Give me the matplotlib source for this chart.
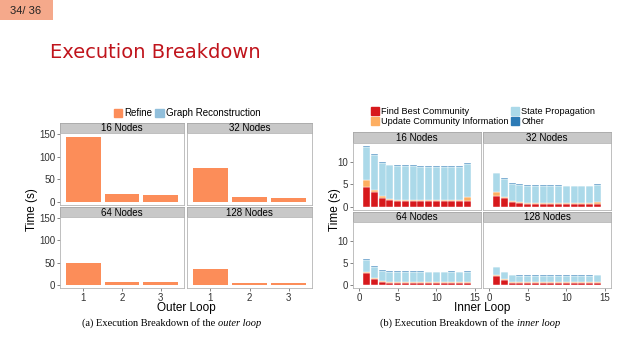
import matplotlib.pyplot as plt
from matplotlib.patches import Rectangle, Patch

W, H = 638, 359

# outer loop (seconds per outer iteration)
outer_iters = [1, 2, 3]
refine_16 = [142.5, 16.5, 15.0]
refine_32 = [75.5, 9.7, 9.0]
refine_64 = [49.0, 7.3, 5.8]
refine_128 = [35.0, 4.4, 4.4]
graphrec_16 = [0.3, 0.2, 0.2]
graphrec_32 = [0.2, 0.1, 0.1]
graphrec_64 = [0.2, 0.1, 0.1]
graphrec_128 = [0.1, 0.1, 0.1]

# inner loop (seconds per inner iteration)
inner_iters = list(range(1, 15))
best_16 = [4.4, 3.2, 1.9, 1.5, 1.3, 1.3, 1.3, 1.3, 1.3, 1.3, 1.3, 1.3, 1.3, 1.3]
update_16 = [1.5, 0.6, 0.45, 0.25, 0.2, 0.2, 0.2, 0.2, 0.2, 0.2, 0.2, 0.2, 0.2, 1.0]
state_16 = [7.5, 7.7, 7.35, 7.45, 7.5, 7.5, 7.5, 7.3, 7.3, 7.3, 7.3, 7.3, 7.3, 7.2]
other_16 = [0.2] * 14
best_32 = [2.5, 1.9, 1.1, 0.85, 0.7, 0.7, 0.7, 0.7, 0.7, 0.7, 0.7, 0.7, 0.7, 0.7]
update_32 = [0.7, 0.2, 0.2, 0.15, 0.15, 0.15, 0.15, 0.15, 0.15, 0.15, 0.15, 0.15, 0.15, 0.4]
state_32 = [4.25, 4.15, 3.85, 3.85, 3.85, 3.85, 3.85, 3.85, 3.85, 3.7, 3.7, 3.7, 3.7, 3.75]
other_32 = [0.15] * 14
best_64 = [2.6, 1.3, 0.65, 0.5, 0.5, 0.5, 0.5, 0.5, 0.5, 0.5, 0.5, 0.5, 0.5, 0.5]
update_64 = [0.4, 0.25, 0.15, 0.15, 0.15, 0.15, 0.15, 0.15, 0.15, 0.15, 0.15, 0.15, 0.15, 0.15]
state_64 = [2.68, 2.58, 2.38, 2.33, 2.33, 2.33, 2.33, 2.33, 2.23, 2.23, 2.23, 2.33, 2.23, 2.33]
other_64 = [0.12] * 14
best_128 = [2.1, 1.1, 0.45, 0.45, 0.45, 0.45, 0.45, 0.45, 0.45, 0.45, 0.45, 0.45, 0.45, 0.45]
update_128 = [0.2, 0.25, 0.15, 0.15, 0.15, 0.15, 0.15, 0.15, 0.15, 0.15, 0.15, 0.15, 0.15, 0.15]
state_128 = [1.7, 1.45, 1.6, 1.45, 1.45, 1.45, 1.45, 1.45, 1.45, 1.45, 1.45, 1.45, 1.45, 1.6]
other_128 = [0.1] * 14

c_refine = '#fc8d59'
c_graph = '#91bfdb'
c_best = '#d7191c'
c_update = '#fdae61'
c_state = '#abd9e9'
c_other = '#2c7bb6'

plt.rcParams['font.family'] = ['Liberation Sans', 'DejaVu Sans']

fig = plt.figure(figsize=(W / 100, H / 100), dpi=100)


def box(x0, y0, x1, y1):
    return [x0 / W, 1 - y1 / H, (x1 - x0) / W, (y1 - y0) / H]


def panel(x0, x1, ys, y0, y1, title):
    st = fig.add_axes(box(x0, ys, x1, y0))
    st.set_facecolor('#c8c8c8')
    st.set_xticks([])
    st.set_yticks([])
    for s in st.spines.values():
        s.set_color('#a8a8a8')
        s.set_linewidth(0.6)
    st.text(0.5, 0.45, title, ha='center', va='center', fontsize=7, transform=st.transAxes)
    ax = fig.add_axes(box(x0, y0, x1, y1))
    for s in ax.spines.values():
        s.set_color('#b4b4b4')
        s.set_linewidth(0.6)
    ax.tick_params(length=2, width=0.5, color='#555555', labelsize=7, pad=1.5, labelcolor='#333333')
    return ax


# ---------------- slide ----------------
fig.patches.append(Rectangle((0, 1 - 20 / H), 53 / W, 20 / H, transform=fig.transFigure,
                             facecolor='#f5a98b', edgecolor='none'))
fig.text(26 / W, 1 - 11 / H, '34/ 36', ha='center', va='center', fontsize=8, color='#222222')
fig.text(50 / W, 1 - 53 / H, 'Execution Breakdown', ha='left', va='center', fontsize=14,
         color='#c0141c', family='DejaVu Sans')

# ---------------- outer loop ----------------
outer = [(refine_16, graphrec_16, '16 Nodes'), (refine_32, graphrec_32, '32 Nodes'),
         (refine_64, graphrec_64, '64 Nodes'), (refine_128, graphrec_128, '128 Nodes')]
lx = [(60, 184), (187, 312)]
ly = [(123, 133, 205), (207, 217, 288)]
for i, (ref, gr, name) in enumerate(outer):
    x0, x1 = lx[i % 2]
    ys, y0, y1 = ly[i // 2]
    ax = panel(x0, x1, ys, y0, y1, name)
    ax.bar(outer_iters, ref, width=0.9, color=c_refine)
    ax.bar(outer_iters, gr, bottom=ref, width=0.9, color=c_graph)
    ax.set_xlim(0.4, 3.6)
    ax.set_ylim(-7, 152)
    ax.set_yticks([0, 50, 100, 150])
    ax.set_xticks(outer_iters)
    if i % 2 == 1:
        ax.tick_params(axis='y', left=False, labelleft=False)
    if i // 2 == 0:
        ax.tick_params(axis='x', bottom=False, labelbottom=False)

fig.text(186 / W, 1 - 308 / H, 'Outer Loop', ha='center', va='center', fontsize=8.5)
fig.text(32 / W, 1 - 210 / H, 'Time (s)', ha='center', va='center', fontsize=8.5, rotation=90)
fig.legend(handles=[Patch(color=c_refine, label='Refine'), Patch(color=c_graph, label='Graph Reconstruction')],
           loc='center', bbox_to_anchor=(187 / W, 1 - 113 / H), ncol=2, frameon=False, fontsize=7,
           handlelength=0.9, handleheight=0.9, handletextpad=0.2, columnspacing=0.3, borderpad=0)

# ---------------- inner loop ----------------
inner = [(best_16, update_16, state_16, other_16, '16 Nodes'),
         (best_32, update_32, state_32, other_32, '32 Nodes'),
         (best_64, update_64, state_64, other_64, '64 Nodes'),
         (best_128, update_128, state_128, other_128, '128 Nodes')]
rx = [(353, 481), (483, 611)]
ry = [(132, 143, 210), (212, 222, 288)]
for i, (b, u, s, o, name) in enumerate(inner):
    x0, x1 = rx[i % 2]
    ys, y0, y1 = ry[i // 2]
    ax = panel(x0, x1, ys, y0, y1, name)
    bottom = [0] * len(inner_iters)
    for vals, col in [(b, c_best), (u, c_update), (s, c_state), (o, c_other)]:
        ax.bar(inner_iters, vals, bottom=bottom, width=0.9, color=col, edgecolor='white', linewidth=0.3)
        bottom = [p + q for p, q in zip(bottom, vals)]
    ax.set_xlim(-0.75, 15.75)
    ax.set_ylim(-0.7, 14.2)
    ax.set_yticks([0, 5, 10])
    ax.set_xticks([0, 5, 10, 15])
    if i % 2 == 1:
        ax.tick_params(axis='y', left=False, labelleft=False)
    if i // 2 == 0:
        ax.tick_params(axis='x', bottom=False, labelbottom=False)

fig.text(482 / W, 1 - 308 / H, 'Inner Loop', ha='center', va='center', fontsize=8.5)
fig.text(335 / W, 1 - 210 / H, 'Time (s)', ha='center', va='center', fontsize=8.5, rotation=90)
fig.legend(handles=[Patch(color=c_best, label='Find Best Community'),
                    Patch(color=c_update, label='Update Community Information'),
                    Patch(color=c_state, label='State Propagation'),
                    Patch(color=c_other, label='Other')],
           loc='center', bbox_to_anchor=(483 / W, 1 - 116.5 / H), ncol=2, frameon=False, fontsize=6.6,
           handlelength=0.9, handleheight=0.9, handletextpad=0.2, columnspacing=0.3, borderpad=0,
           labelspacing=0.1)

# ---------------- captions ----------------
renderer = fig.canvas.get_renderer()


def caption(cx, y, plain, italic):
    t1 = fig.text(0, 1 - y / H, plain, ha='left', va='center', fontsize=7.5, family='Liberation Serif')
    t2 = fig.text(0, 1 - y / H, italic, ha='left', va='center', fontsize=7.5, family='Liberation Serif',
                  style='italic')
    w1 = t1.get_window_extent(renderer).width
    w2 = t2.get_window_extent(renderer).width
    start = cx - (w1 + w2) / 2
    t1.set_x(start / W)
    t2.set_x((start + w1) / W)


caption(172, 323, '(a) Execution Breakdown of the ', 'outer loop')
caption(470, 323, '(b) Execution Breakdown of the ', 'inner loop')

fig.savefig('out.png', dpi=100)
